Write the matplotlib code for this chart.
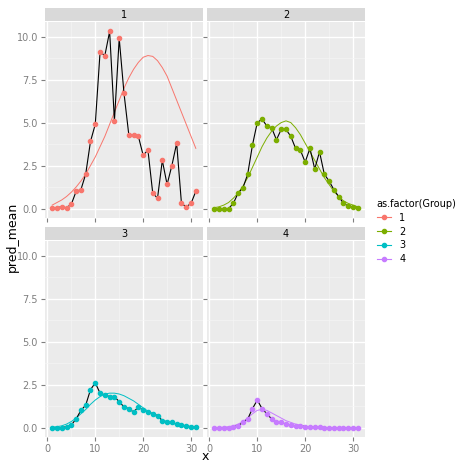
import matplotlib.pyplot as plt
from matplotlib.lines import Line2D

x = list(range(1, 32))
groups = ["1", "2", "3", "4"]
colors = ["#F8766D", "#7CAE00", "#00BFC4", "#C77CFF"]

obs = [
    [0.05, 0.05, 0.1, 0.05, 0.25, 1.0, 1.1, 2.0, 3.9, 4.9, 9.1, 8.9, 10.3, 5.1, 9.9, 6.7, 4.3, 4.3, 4.2, 3.1,
     3.4, 0.9, 0.6, 2.8, 1.4, 2.5, 3.8, 0.3, 0.1, 0.3, 1.0],
    [0, 0, 0, 0, 0.3, 0.9, 1.2, 2.0, 3.7, 5.0, 5.2, 4.8, 4.7, 4.0, 4.6, 4.6, 4.2, 3.5, 3.4, 2.7,
     3.5, 2.3, 3.3, 2.0, 1.6, 1.1, 0.7, 0.3, 0.15, 0.1, 0.05],
    [0, 0, 0, 0.05, 0.15, 0.5, 1.0, 1.3, 2.2, 2.6, 2.0, 1.9, 1.8, 1.8, 1.5, 1.2, 1.1, 0.9, 1.2, 1.0,
     0.9, 0.8, 0.7, 0.4, 0.3, 0.3, 0.2, 0.15, 0.1, 0.05, 0.05],
    [0, 0, 0, 0, 0.05, 0.1, 0.3, 0.5, 1.1, 1.6, 1.1, 0.8, 0.5, 0.3, 0.3, 0.2, 0.15, 0.1, 0.1, 0.05,
     0.05, 0.05, 0.02, 0, 0, 0, 0, 0, 0, 0, 0],
]
smooth = [
    [0.2, 0.35, 0.5, 0.7, 0.95, 1.25, 1.6, 2.0, 2.5, 3.0, 3.6, 4.2, 4.9, 5.6, 6.3, 7.0, 7.6, 8.1, 8.5, 8.8,
     8.9, 8.85, 8.6, 8.2, 7.7, 7.0, 6.3, 5.6, 4.9, 4.2, 3.5],
    [0.05, 0.1, 0.2, 0.35, 0.6, 0.9, 1.3, 1.8, 2.4, 3.0, 3.6, 4.1, 4.5, 4.8, 5.0, 5.1, 5.0, 4.7, 4.3, 3.8,
     3.3, 2.8, 2.3, 1.8, 1.4, 1.0, 0.7, 0.45, 0.3, 0.2, 0.1],
    [0.02, 0.05, 0.1, 0.2, 0.35, 0.55, 0.8, 1.05, 1.35, 1.6, 1.8, 1.95, 2.0, 2.0, 1.95, 1.85, 1.7, 1.55, 1.35, 1.15,
     0.95, 0.8, 0.6, 0.45, 0.35, 0.25, 0.18, 0.12, 0.08, 0.05, 0.03],
    [0, 0, 0.02, 0.05, 0.1, 0.2, 0.35, 0.55, 0.8, 1.0, 1.05, 1.0, 0.85, 0.7, 0.55, 0.4, 0.3, 0.2, 0.13, 0.08,
     0.05, 0.03, 0.02, 0.01, 0, 0, 0, 0, 0, 0, 0],
]

W, H = 474, 473
fig = plt.figure(figsize=(W / 100, H / 100), dpi=100)

# panel boxes in pixels: left, top, right, bottom
lefts = [45, 207]
rights = [203, 365]
tops = [22, 241]
bottoms = [218, 437]
strip_h = 13

for i, g in enumerate(groups):
    r, c = divmod(i, 2)
    l, rt, t, b = lefts[c], rights[c], tops[r], bottoms[r]
    ax = fig.add_axes([l / W, 1 - b / H, (rt - l) / W, (b - t) / H])
    ax.set_facecolor("#EBEBEB")
    for s in ax.spines.values():
        s.set_visible(False)
    ax.set_xlim(-0.5, 32.5)
    ax.set_ylim(-0.55, 10.85)
    ax.set_xticks([0, 10, 20, 30])
    ax.set_yticks([0, 2.5, 5, 7.5, 10])
    ax.set_xticks([5, 15, 25], minor=True)
    ax.set_yticks([1.25, 3.75, 6.25, 8.75], minor=True)
    ax.grid(True, which="major", color="white", lw=1)
    ax.grid(True, which="minor", color="#F5F5F5", lw=0.5)
    ax.set_axisbelow(True)
    ax.tick_params(length=3, color="#7F7F7F", labelsize=7, labelcolor="#7F7F7F", pad=2)
    ax.tick_params(which="minor", length=0)
    if c == 1:
        ax.tick_params(labelleft=False)
    if r == 0:
        ax.tick_params(labelbottom=False)
    ax.plot(x, smooth[i], color=colors[i], lw=0.7)
    ax.plot(x, obs[i], color="black", lw=0.8)
    ax.plot(x, obs[i], "o", color=colors[i], ms=3)
    sax = fig.add_axes([l / W, 1 - (t - 1) / H, (rt - l) / W, strip_h / H])
    sax.set_facecolor("#D9D9D9")
    sax.set_xticks([])
    sax.set_yticks([])
    for s in sax.spines.values():
        s.set_visible(False)
    sax.text(0.5, 0.5, g, ha="center", va="center", fontsize=7, transform=sax.transAxes)

fig.text(205 / W, 1 - 456 / H, "x", ha="center", va="center", fontsize=9)
fig.text(12 / W, 0.5, "pred_mean", rotation=90, ha="center", va="center", fontsize=9)

handles = [Line2D([], [], color=col, marker="o", ms=3, lw=0.8) for col in colors]
leg = fig.legend(handles, groups, title="as.factor(Group)", loc="upper left",
                 bbox_to_anchor=(368 / W, 1 - 190 / H), frameon=False, fontsize=7,
                 title_fontsize=7, handlelength=1.5, labelspacing=0.4)
leg._legend_box.align = "left"

fig.savefig("out.png", dpi=100)
